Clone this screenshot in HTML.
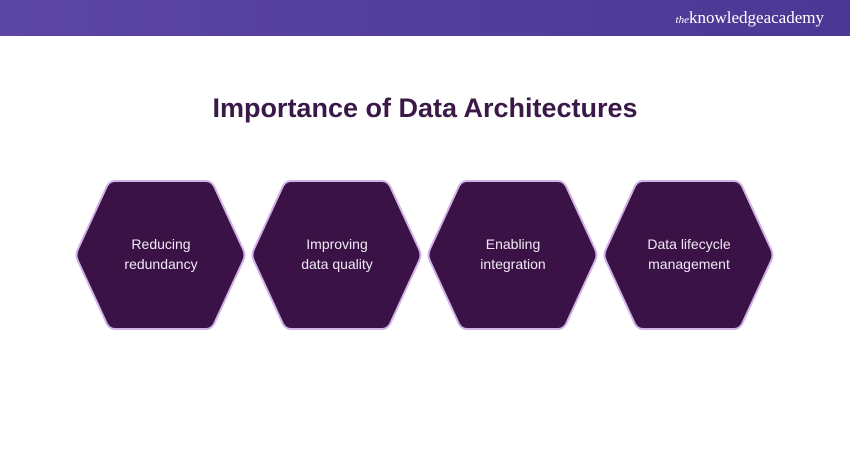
<!DOCTYPE html>
<html><head><style>
body{margin:0;width:850px;height:450px;background:#fff;overflow:hidden;position:relative;font-family:"Liberation Sans",sans-serif}
.hdr{position:absolute;left:0;top:0;width:850px;height:36px;background:linear-gradient(90deg,#5b47a3,#4a3894)}
.logo{position:absolute;right:26px;top:8px;color:#fff;font-family:"Liberation Serif",serif;font-size:17px}
.logo i{font-size:11px}
h1{position:absolute;top:93px;left:0;width:850px;text-align:center;margin:0;font-size:27px;font-weight:bold;color:#3a1848}
</style></head><body>
<div class="hdr"><div class="logo"><i>the</i>knowledgeacademy</div></div>
<h1>Importance of Data Architectures</h1>
<svg width="850" height="450" style="position:absolute;left:0;top:0">
<defs><path id="hx" d="M38,0 L129,0 Q134,0 137,5 L166,68 Q169,74 166,80 L137,143 Q134,148 129,148 L38,148 Q33,148 30,143 L1,80 Q-2,74 1,68 L30,5 Q33,0 38,0Z" fill="#3a1246" stroke="#d2b3e8" stroke-width="2"/></defs>
<use href="#hx" x="77" y="181"/>
<use href="#hx" x="253" y="181"/>
<use href="#hx" x="429" y="181"/>
<use href="#hx" x="605" y="181"/>
<g fill="#f0e8f4" font-size="14" text-anchor="middle" font-family="Liberation Sans, sans-serif">
<text x="161" y="249">Reducing</text><text x="161" y="269">redundancy</text>
<text x="337" y="249">Improving</text><text x="337" y="269">data quality</text>
<text x="513" y="249">Enabling</text><text x="513" y="269">integration</text>
<text x="689" y="249">Data lifecycle</text><text x="689" y="269">management</text>
</g>
</svg>
</body></html>
